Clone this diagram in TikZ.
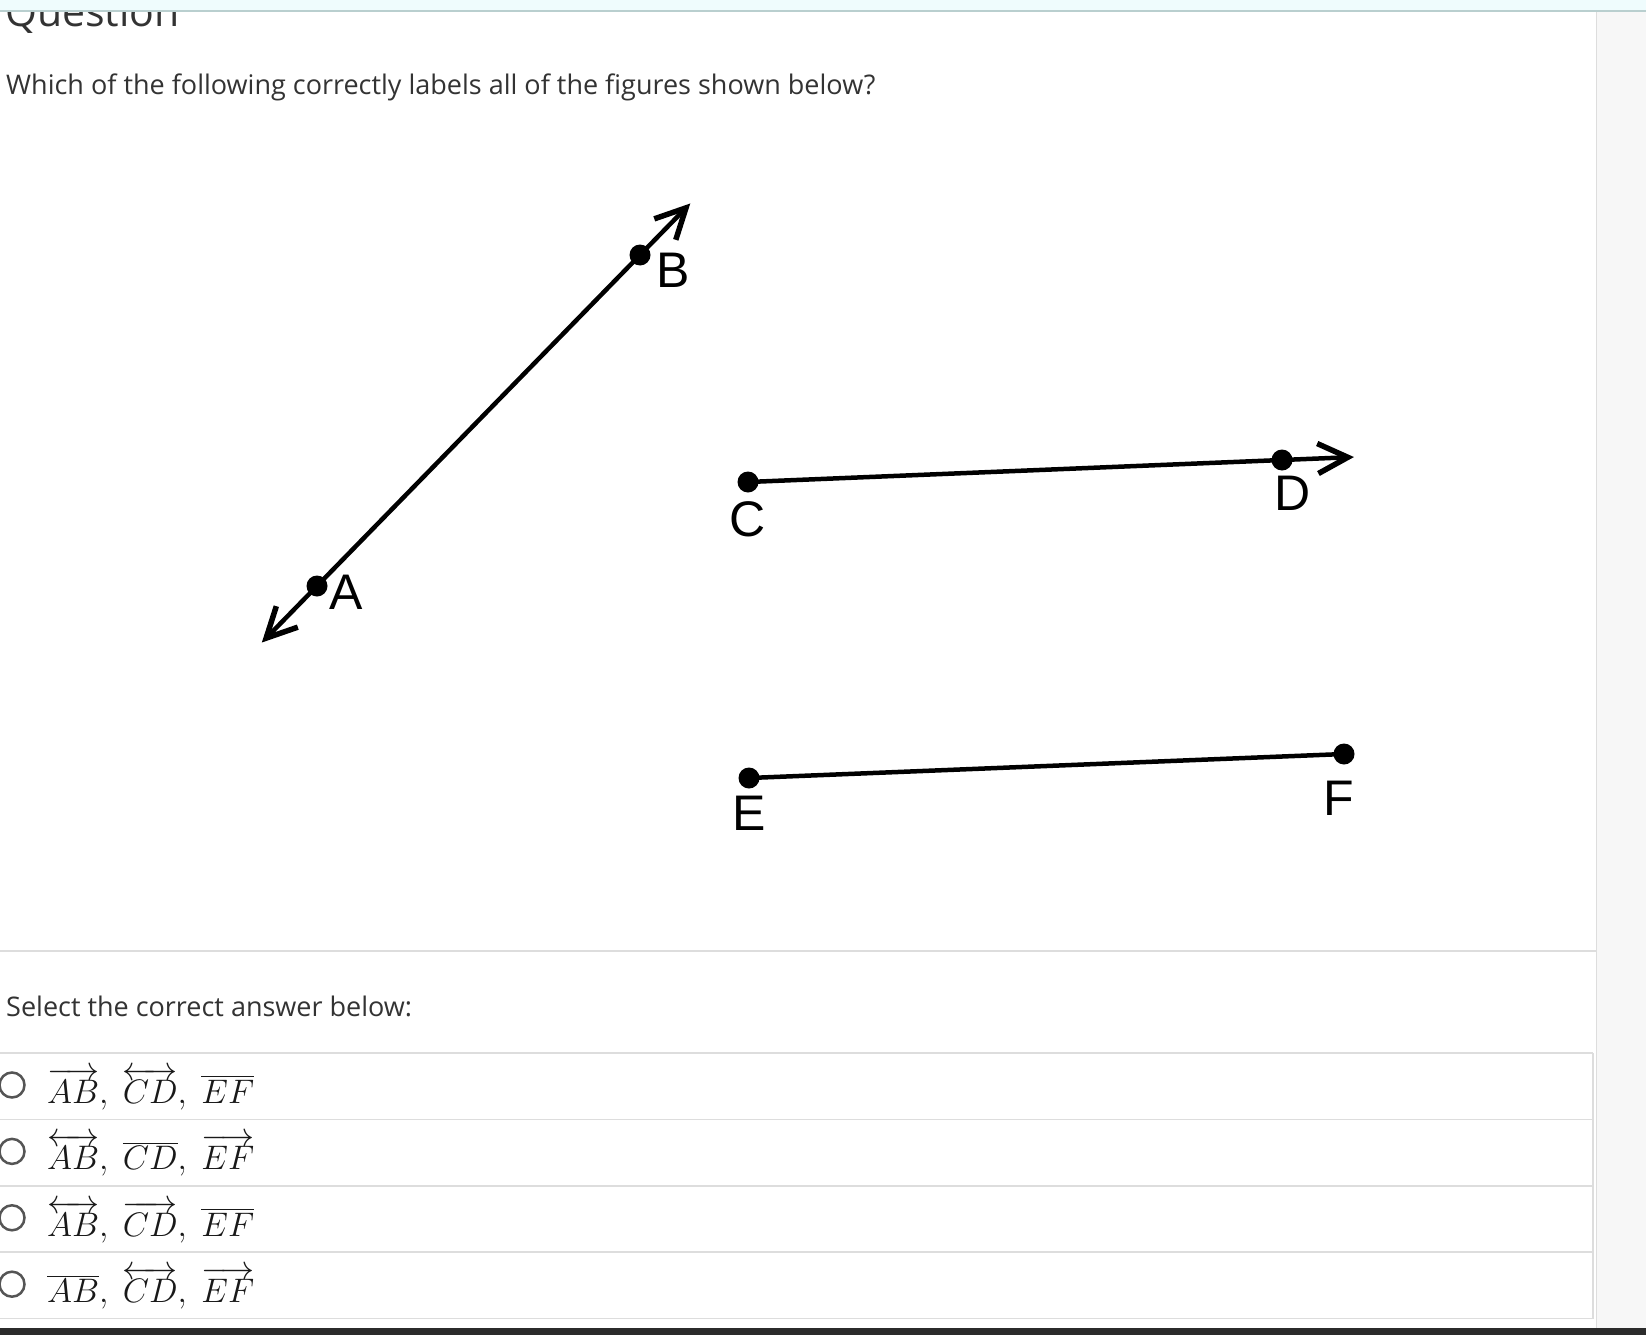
\documentclass[tikz,border=0pt]{standalone}
\usepackage{fix-cm}
\usepackage{amsmath}
\usepackage{fontspec}
\setmainfont{Open Sans}
\newfontfamily\figfont{Liberation Sans}
\usetikzlibrary{arrows.meta,
                positioning,
                calc}
\definecolor{txt}{RGB}{51,51,51}
\definecolor{rule}{RGB}{221,221,221}
\definecolor{topband}{RGB}{239,252,253}
\definecolor{topline}{RGB}{185,207,207}
\definecolor{sidepanel}{RGB}{247,247,247}
\definecolor{radio}{RGB}{85,85,85}
\definecolor{footbar}{RGB}{43,43,43}

\begin{document}
\begin{tikzpicture}[x=1pt,y=-1pt,
    dot/.style={circle,fill=black,inner sep=0pt,minimum size=21pt},
    ptlabel/.style={inner sep=0pt,font=\figfont\fontsize{50}{52}\selectfont},
    geoline/.style={line width=4.5pt,black},
    geo/.tip={Straight Barb[length=30pt,width=30pt,line width=5.5pt]},
    qtext/.style={anchor=base west,inner sep=0pt,text=txt,font=\fontsize{27}{32}\selectfont},
    choice/.style={anchor=base west,inner sep=0pt,text=black!90,font=\fontsize{34}{40}\selectfont},
    radiobtn/.style={circle,draw=radio,line width=2.5pt,inner sep=0pt,minimum size=25pt}]
  \useasboundingbox (0,0) rectangle (1646,1335);
  \fill[white] (0,0) rectangle (1646,1335);
  \fill[sidepanel] (1597,0) rectangle (1646,1335);
  \draw[rule,line width=1.5pt] (1596.5,12) -- (1596.5,1328);

  % heading, cut off by the top band
  \node[anchor=base west,inner sep=0pt,text=txt,font=\fontsize{41}{44}\selectfont] (qhead) at (5,27) {Question};
  \fill[topband] (0,0) rectangle (1646,10);
  \fill[topline] (0,10) rectangle (1646,12.5);

  \node[qtext] (question) at (6,95) {Which of the following correctly labels all of the figures shown below?};

  % the figures
  \node[dot] (A) at (317,586) {};
  \node[dot] (B) at (640,255) {};
  \node[dot] (C) at (748,482) {};
  \node[dot] (D) at (1282,460) {};
  \node[dot] (E) at (749,778) {};
  \node[dot] (F) at (1344,754) {};

  \draw[geoline, geo-geo, shorten <=-79pt, shorten >=-72pt] (A.center) -- (B.center);
  \draw[geoline, -geo, shorten >=-72pt] (C.center) -- (D.center);
  \draw[geoline] (E.center) -- (F.center);

  \node[ptlabel, right=2pt of A, yshift=-6pt] (labA) {A};
  \node[ptlabel, right=6pt of B, yshift=-15pt] (labB) {B};
  \node[ptlabel, below=9pt of C] (labC) {C};
  \node[ptlabel, below=5pt of D, xshift=11pt] (labD) {D};
  \node[ptlabel, below=7pt of E] (labE) {E};
  \node[ptlabel, below=16pt of F, xshift=-5pt] (labF) {F};

  % answers
  \draw[rule,line width=1.5pt] (0,951) -- (1596,951);
  \node[qtext] (select) at (6,1016) {Select the correct answer below:};

  \foreach \i/\ans in {0/{$\overrightarrow{AB},\ \overleftrightarrow{CD},\ \overline{EF}$},
                       1/{$\overleftrightarrow{AB},\ \overline{CD},\ \overrightarrow{EF}$},
                       2/{$\overleftrightarrow{AB},\ \overrightarrow{CD},\ \overline{EF}$},
                       3/{$\overline{AB},\ \overleftrightarrow{CD},\ \overrightarrow{EF}$}} {
    \draw[rule,line width=1.5pt] (0,{1053+66.4*\i}) -- (1593,{1053+66.4*\i});
    \node[radiobtn] (radio\i) at (12,{1085+66.4*\i}) {};
    \node[choice] (choice\i) at (47,{1103.5+66.4*\i}) {\ans};
  }
  \draw[rule,line width=1.5pt] (0,1318.6) -- (1593,1318.6);
  \draw[rule,line width=1.5pt] (1593,1053) -- (1593,1318.6);

  \fill[footbar] (0,1328) rectangle (1646,1335);
\end{tikzpicture}
\end{document}
